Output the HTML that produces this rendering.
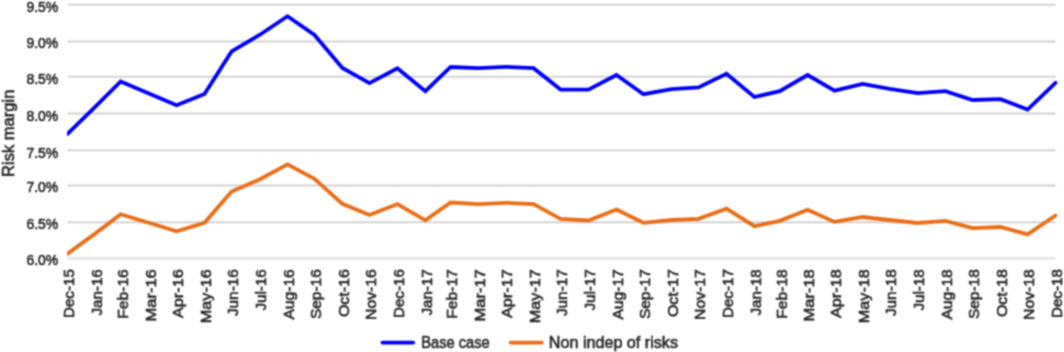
<!DOCTYPE html>
<html><head><meta charset="utf-8"><title>Risk margin</title>
<style>
html,body{margin:0;padding:0;background:#fff;}
body{width:1064px;height:352px;overflow:hidden;}
svg{display:block;}
text{font-family:"Liberation Sans",sans-serif;fill:#2a2a2a;stroke:#2a2a2a;stroke-width:0.6px;}
.g line{stroke:#d3d3d3;stroke-width:2.0;}
.g line.ax{stroke:#dadada;stroke-width:1.8;}
.yl text,.xl text{font-size:15px;}
.lg text{font-size:15.8px;}
</style></head><body>
<svg width="1064" height="352" viewBox="0 0 1064 352">
<defs><filter id="bl" x="0" y="0" width="1064" height="352" filterUnits="userSpaceOnUse" color-interpolation-filters="sRGB"><feConvolveMatrix order="3" kernelMatrix="1 2 1 2 4 2 1 2 1" divisor="16" edgeMode="duplicate" preserveAlpha="false"/></filter></defs>
<rect width="1064" height="352" fill="#fff"/>
<g filter="url(#bl)">
<g class="g"><line x1="67.7" x2="1055.7" y1="4.69" y2="4.69"/><line x1="67.7" x2="1055.7" y1="41.54" y2="41.54"/><line x1="67.7" x2="1055.7" y1="76.69" y2="76.69"/><line x1="67.7" x2="1055.7" y1="113.40" y2="113.40"/><line x1="67.7" x2="1055.7" y1="150.25" y2="150.25"/><line x1="67.7" x2="1055.7" y1="185.45" y2="185.45"/><line x1="67.7" x2="1055.7" y1="222.20" y2="222.20"/><line x1="67.7" x2="1055.7" y1="258.40" y2="258.40" class="ax"/></g>
<g class="yl"><text x="58.2" y="12.20" text-anchor="end" textLength="31.8" lengthAdjust="spacingAndGlyphs">9.5%</text><text x="58.2" y="47.90" text-anchor="end" textLength="31.8" lengthAdjust="spacingAndGlyphs">9.0%</text><text x="58.2" y="83.70" text-anchor="end" textLength="31.8" lengthAdjust="spacingAndGlyphs">8.5%</text><text x="58.2" y="120.98" text-anchor="end" textLength="31.8" lengthAdjust="spacingAndGlyphs">8.0%</text><text x="58.2" y="157.70" text-anchor="end" textLength="31.8" lengthAdjust="spacingAndGlyphs">7.5%</text><text x="58.2" y="192.40" text-anchor="end" textLength="31.8" lengthAdjust="spacingAndGlyphs">7.0%</text><text x="58.2" y="229.20" text-anchor="end" textLength="31.8" lengthAdjust="spacingAndGlyphs">6.5%</text><text x="58.2" y="265.30" text-anchor="end" textLength="31.8" lengthAdjust="spacingAndGlyphs">6.0%</text></g>
<text transform="translate(14.2,176.9) rotate(-90)" font-size="16.4" textLength="87.3" lengthAdjust="spacingAndGlyphs">Risk margin</text>
<clipPath id="cp"><rect x="67.1" y="0" width="996.9" height="270"/></clipPath>
<g clip-path="url(#cp)">
<polyline points="67.5,253.8 95.4,233.4 120.7,214.3 149.5,223.0 176.6,231.2 204.5,222.8 231.6,191.5 259.5,179.5 287.5,164.3 314.5,178.8 342.4,203.8 369.5,215.0 397.4,204.1 425.4,220.3 450.6,202.5 478.6,204.2 505.6,202.8 533.6,204.2 560.6,218.8 588.5,220.5 616.5,209.6 643.5,222.8 671.5,220.0 698.5,218.8 726.5,208.6 754.4,226.2 779.7,220.8 807.6,209.8 834.6,221.9 862.6,217.0 889.6,220.0 917.6,223.0 945.5,220.8 972.6,228.2 1000.5,227.0 1027.6,234.4 1055.5,215.5" fill="none" stroke="#eb6e18" stroke-width="3.8" stroke-linejoin="miter" stroke-miterlimit="10" stroke-linecap="round"/>
<polyline points="67.5,133.8 95.4,106.7 120.7,81.5 149.5,93.7 176.6,105.2 204.5,94.0 231.6,51.4 259.5,35.0 287.5,16.2 314.5,35.0 342.4,68.0 369.5,83.2 397.4,68.3 425.4,91.2 450.6,67.0 478.6,68.2 505.6,66.8 533.6,68.2 560.6,89.6 588.5,89.6 616.5,75.0 643.5,94.2 671.5,89.2 698.5,87.4 726.5,73.8 754.4,97.0 779.7,91.2 807.6,75.0 834.6,90.7 862.6,84.0 889.6,88.9 917.6,93.2 945.5,91.2 972.6,100.0 1000.5,99.2 1027.6,109.5 1055.5,82.8" fill="none" stroke="#0000ff" stroke-width="3.8" stroke-linejoin="miter" stroke-miterlimit="10" stroke-linecap="round"/>
</g>
<g class="xl"><text transform="translate(74.3,269.2) rotate(-90)" text-anchor="end" textLength="48.8" lengthAdjust="spacingAndGlyphs">Dec-15</text><text transform="translate(102.2,269.2) rotate(-90)" text-anchor="end" textLength="46.4" lengthAdjust="spacingAndGlyphs">Jan-16</text><text transform="translate(127.5,269.2) rotate(-90)" text-anchor="end" textLength="49.6" lengthAdjust="spacingAndGlyphs">Feb-16</text><text transform="translate(156.3,269.2) rotate(-90)" text-anchor="end" textLength="52.3" lengthAdjust="spacingAndGlyphs">Mar-16</text><text transform="translate(183.4,269.2) rotate(-90)" text-anchor="end" textLength="48.9" lengthAdjust="spacingAndGlyphs">Apr-16</text><text transform="translate(211.3,269.2) rotate(-90)" text-anchor="end" textLength="54.0" lengthAdjust="spacingAndGlyphs">May-16</text><text transform="translate(238.4,269.2) rotate(-90)" text-anchor="end" textLength="46.9" lengthAdjust="spacingAndGlyphs">Jun-16</text><text transform="translate(266.3,269.2) rotate(-90)" text-anchor="end" textLength="41.4" lengthAdjust="spacingAndGlyphs">Jul-16</text><text transform="translate(294.3,269.2) rotate(-90)" text-anchor="end" textLength="50.4" lengthAdjust="spacingAndGlyphs">Aug-16</text><text transform="translate(321.3,269.2) rotate(-90)" text-anchor="end" textLength="49.9" lengthAdjust="spacingAndGlyphs">Sep-16</text><text transform="translate(349.2,269.2) rotate(-90)" text-anchor="end" textLength="47.9" lengthAdjust="spacingAndGlyphs">Oct-16</text><text transform="translate(376.3,269.2) rotate(-90)" text-anchor="end" textLength="50.7" lengthAdjust="spacingAndGlyphs">Nov-16</text><text transform="translate(404.2,269.2) rotate(-90)" text-anchor="end" textLength="48.8" lengthAdjust="spacingAndGlyphs">Dec-16</text><text transform="translate(432.2,269.2) rotate(-90)" text-anchor="end" textLength="46.4" lengthAdjust="spacingAndGlyphs">Jan-17</text><text transform="translate(457.4,269.2) rotate(-90)" text-anchor="end" textLength="49.6" lengthAdjust="spacingAndGlyphs">Feb-17</text><text transform="translate(485.4,269.2) rotate(-90)" text-anchor="end" textLength="52.3" lengthAdjust="spacingAndGlyphs">Mar-17</text><text transform="translate(512.4,269.2) rotate(-90)" text-anchor="end" textLength="48.9" lengthAdjust="spacingAndGlyphs">Apr-17</text><text transform="translate(540.4,269.2) rotate(-90)" text-anchor="end" textLength="54.0" lengthAdjust="spacingAndGlyphs">May-17</text><text transform="translate(567.4,269.2) rotate(-90)" text-anchor="end" textLength="46.9" lengthAdjust="spacingAndGlyphs">Jun-17</text><text transform="translate(595.3,269.2) rotate(-90)" text-anchor="end" textLength="41.4" lengthAdjust="spacingAndGlyphs">Jul-17</text><text transform="translate(623.3,269.2) rotate(-90)" text-anchor="end" textLength="50.4" lengthAdjust="spacingAndGlyphs">Aug-17</text><text transform="translate(650.3,269.2) rotate(-90)" text-anchor="end" textLength="49.9" lengthAdjust="spacingAndGlyphs">Sep-17</text><text transform="translate(678.3,269.2) rotate(-90)" text-anchor="end" textLength="47.9" lengthAdjust="spacingAndGlyphs">Oct-17</text><text transform="translate(705.3,269.2) rotate(-90)" text-anchor="end" textLength="50.7" lengthAdjust="spacingAndGlyphs">Nov-17</text><text transform="translate(733.3,269.2) rotate(-90)" text-anchor="end" textLength="48.8" lengthAdjust="spacingAndGlyphs">Dec-17</text><text transform="translate(761.2,269.2) rotate(-90)" text-anchor="end" textLength="46.4" lengthAdjust="spacingAndGlyphs">Jan-18</text><text transform="translate(786.5,269.2) rotate(-90)" text-anchor="end" textLength="49.6" lengthAdjust="spacingAndGlyphs">Feb-18</text><text transform="translate(814.4,269.2) rotate(-90)" text-anchor="end" textLength="52.3" lengthAdjust="spacingAndGlyphs">Mar-18</text><text transform="translate(841.4,269.2) rotate(-90)" text-anchor="end" textLength="48.9" lengthAdjust="spacingAndGlyphs">Apr-18</text><text transform="translate(869.4,269.2) rotate(-90)" text-anchor="end" textLength="54.0" lengthAdjust="spacingAndGlyphs">May-18</text><text transform="translate(896.4,269.2) rotate(-90)" text-anchor="end" textLength="46.9" lengthAdjust="spacingAndGlyphs">Jun-18</text><text transform="translate(924.4,269.2) rotate(-90)" text-anchor="end" textLength="41.4" lengthAdjust="spacingAndGlyphs">Jul-18</text><text transform="translate(952.3,269.2) rotate(-90)" text-anchor="end" textLength="50.4" lengthAdjust="spacingAndGlyphs">Aug-18</text><text transform="translate(979.4,269.2) rotate(-90)" text-anchor="end" textLength="49.9" lengthAdjust="spacingAndGlyphs">Sep-18</text><text transform="translate(1007.3,269.2) rotate(-90)" text-anchor="end" textLength="47.9" lengthAdjust="spacingAndGlyphs">Oct-18</text><text transform="translate(1034.4,269.2) rotate(-90)" text-anchor="end" textLength="50.7" lengthAdjust="spacingAndGlyphs">Nov-18</text><text transform="translate(1062.3,269.2) rotate(-90)" text-anchor="end" textLength="48.8" lengthAdjust="spacingAndGlyphs">Dec-18</text></g>
<g class="lg">
<line x1="382.4" x2="413.2" y1="342.6" y2="342.6" stroke="#0000ff" stroke-width="3.7" stroke-linecap="round"/>
<text x="421.2" y="347.8" textLength="68.5" lengthAdjust="spacingAndGlyphs">Base case</text>
<line x1="510.6" x2="541.9" y1="342.6" y2="342.6" stroke="#eb6e18" stroke-width="3.7" stroke-linecap="round"/>
<text x="548.8" y="347.8" textLength="129.2" lengthAdjust="spacingAndGlyphs">Non indep of risks</text>
</g>
</g>
</svg>
</body></html>
